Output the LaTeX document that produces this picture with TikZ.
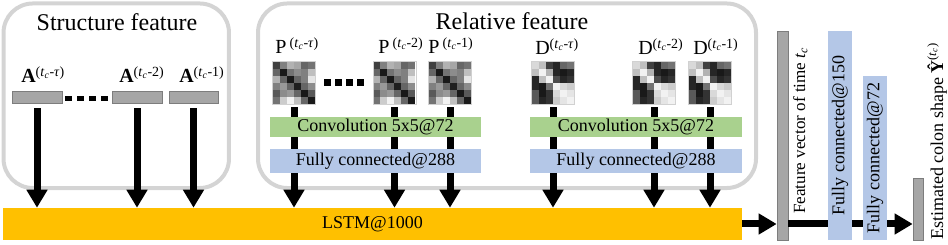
\documentclass[tikz,border=0pt]{standalone}
\usepackage{fontspec}
\setmainfont{Liberation Serif}
\usetikzlibrary{arrows.meta,calc}
\definecolor{lstmorange}{RGB}{255,192,0}
\definecolor{convgreen}{RGB}{169,209,142}
\definecolor{fcblue}{RGB}{180,199,231}
\definecolor{bargray}{RGB}{166,166,166}
\definecolor{boxgray}{RGB}{212,212,212}
\newcommand{\tcsup}[1]{\textsuperscript{(\textit{t}\textsubscript{\textit{c}}-#1)}}
\def\Pvals{25,50,70,65,40,45,40,10,45,55,50,75,70,40,10,40,50,90,50,60,40,12,40,55,35,55,60,40,10,35,45,80,95,75,40,10}
\def\Dvals{85,75,25,15,40,45,75,95,70,15,10,15,15,75,95,30,15,20,15,10,45,95,85,80,35,10,20,85,95,90,35,15,20,80,90,95}
\newcommand{\fillmat}[2]{%
  \foreach \val [count=\k from 0] in #2 {%
    \pgfmathtruncatemacro\mc{mod(\k,6)}%
    \pgfmathtruncatemacro\mr{floor(\k/6)}%
    \fill[white!\val!black] ($(#1.north west)+(\mc*7,\mr*7)$) rectangle ++(7,7);
  }
  \draw[matline] (#1.north west) rectangle (#1.south east);
}
\begin{document}
\begin{tikzpicture}[x=0.75pt,y=-0.75pt,
  groupbox/.style={draw=boxgray,line width=3pt,rounded corners=22pt,inner sep=0},
  titletxt/.style={font=\fontsize{18}{21}\selectfont,inner sep=0,anchor=base},
  lab/.style={font=\fontsize{15}{18}\selectfont,inner sep=0,anchor=base west},
  txt/.style={font=\fontsize{13.5}{16}\selectfont},
  vecbar/.style={draw=bargray!75!black,line width=0.5pt,fill=bargray,inner sep=0},
  matnode/.style={minimum width=31.5pt,minimum height=31.5pt,inner sep=0},
  matline/.style={draw=black!18,line width=0.4pt},
  convbar/.style={txt,fill=convgreen,inner sep=0,minimum width=158.5pt,minimum height=15pt},
  fcbar/.style={txt,fill=fcblue,inner sep=0,minimum width=158.5pt,minimum height=18pt},
  shaft/.style={line width=5.25pt},
  arr/.style={shaft,-{Triangle[width=15pt,length=13.5pt]}}
]
\useasboundingbox (0,0) rectangle (948,245);
% group boxes
\node[groupbox,minimum width=169.1pt,minimum height=138.4pt] (sbox) at (116.25,95.75) {};
\node[groupbox,minimum width=373.5pt,minimum height=138.4pt] (rbox) at (507,95.75) {};
\node[titletxt] (stitle) at (117,31) {Structure feature};
\node[titletxt] (rtitle) at (512,30) {Relative feature};
% LSTM
\node[txt,fill=lstmorange,inner sep=0,minimum width=554.25pt,minimum height=24pt] (lstm) at (372.5,224) {LSTM@1000};
% structure bars
\node[vecbar,minimum width=37.5pt,minimum height=9pt] (a1) at (37,97) {};
\node[vecbar,minimum width=37.5pt,minimum height=9pt] (a2) at (137,97) {};
\node[vecbar,minimum width=36.75pt,minimum height=9pt] (a3) at (193.5,97) {};
\node[lab] (la1) at (21,83) {\textbf{A}\tcsup{\textit{τ}}};
\node[lab] (la2) at (119,83) {\textbf{A}\tcsup{2}};
\node[lab] (la3) at (179,83) {\textbf{A}\tcsup{1}};
\foreach \dx in {0,12,24,36} \fill ($(a1.east)+(3+\dx,-1)$) rectangle ++(7,5);
\foreach \b in {a1,a2,a3} \draw[arr,shorten <=3.75pt] (\b.south) -- (\b.south |- lstm.north);
% matrices
\foreach \n/\x in {p1/294,p2/394.5,p3/450} {
  \node[matnode] (\n) at (\x,83) {};
  \fillmat{\n}{\Pvals}
}
\foreach \n/\x in {d1/553,d2/654,d3/710} {
  \node[matnode] (\n) at (\x,83) {};
  \fillmat{\n}{\Dvals}
}
\foreach \dx in {0,11,22,33} \fill ($(p1.east)+(9+\dx,-4)$) rectangle ++(7,7);
\node[lab] (lp1) at (275,54) {P\,\tcsup{\textit{τ}}};
\node[lab] (lp2) at (378,54) {P\,\tcsup{2}};
\node[lab] (lp3) at (428,54) {P\,\tcsup{1}};
\node[lab] (ld1) at (535,55) {D\tcsup{\textit{τ}}};
\node[lab] (ld2) at (638,55) {D\tcsup{2}};
\node[lab] (ld3) at (693,55) {D\tcsup{1}};
% conv / fc bars
\node[convbar] (convp) at (375.5,127) {Convolution 5x5@72};
\node[fcbar] (fcp) at (375.5,161) {Fully connected@288};
\node[convbar] (convd) at (636,127) {Convolution 5x5@72};
\node[fcbar] (fcd) at (636,161) {Fully connected@288};
\foreach \m/\cb/\fb in {p1/convp/fcp,p2/convp/fcp,p3/convp/fcp,d1/convd/fcd,d2/convd/fcd,d3/convd/fcd} {
  \draw[shaft,shorten <=2.25pt] (\m.south) -- (\m.south |- \cb.north);
  \draw[shaft] (\m.south |- \cb.south) -- (\m.south |- \fb.north);
  \draw[arr] (\m.south |- \fb.south) -- (\m.south |- lstm.north);
}
% right part
\node[vecbar,minimum width=8.25pt,minimum height=156.75pt] (fv) at (782.5,135.5) {};
\node[font=\fontsize{12.8}{15}\selectfont,rotate=90,anchor=base west,inner sep=0] (fvtxt) at (805,214) {Feature vector of time \textit{t}\textsubscript{\textit{c}}};
\node[txt,fill=fcblue,rotate=90,inner sep=0,minimum width=156.75pt,minimum height=18pt] (fc150) at (840,135.5) {Fully connected@150};
\node[txt,fill=fcblue,rotate=90,inner sep=0,minimum width=123pt,minimum height=18pt] (fc72) at (875,158) {Fully connected@72};
\node[vecbar,minimum width=7.5pt,minimum height=46.5pt] (out) at (918,209) {};
\node[txt,rotate=90,anchor=base west,inner sep=0] (outtxt) at (943,240) {Estimated colon shape \textbf{Ŷ}\textsuperscript{(\textit{t}\textsubscript{\textit{c}})}};
\draw[arr] (lstm.east) -- (lstm.east -| fv.west);
\draw[shaft] (lstm.east -| fv.east) -- (lstm.east -| fc150.north);
\draw[shaft] (lstm.east -| fc150.south) -- (lstm.east -| fc72.north);
\draw[arr] (lstm.east -| fc72.south) -- (lstm.east -| out.west);
\end{tikzpicture}
\end{document}
